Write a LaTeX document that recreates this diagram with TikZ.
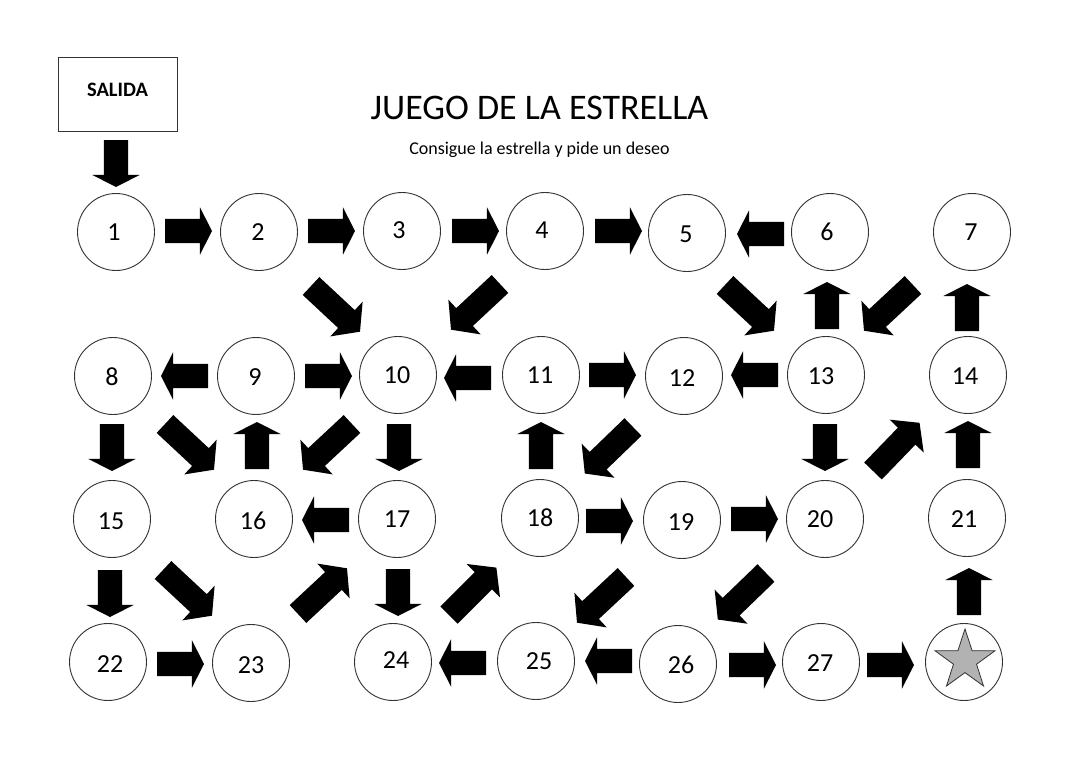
\documentclass[tikz,border=0pt]{standalone}
\usepackage{fontspec}
\setmainfont{Carlito}
\usetikzlibrary{shapes.geometric,shapes.arrows}
\tikzset{
  cell/.style={circle,draw=black!80,line width=0.9pt,minimum size=77pt,inner sep=0pt},
  cellnum/.style={inner sep=0pt,text depth=0pt,font=\fontsize{26}{26}\selectfont},
  straightarrow/.style={single arrow,fill=black,draw=none,inner xsep=0pt,inner ysep=12pt,outer sep=0pt,
    minimum width=47pt,minimum height=47pt,single arrow head extend=11.5pt,
    single arrow tip angle=126,anchor=tail},
  diagarrow/.style={single arrow,fill=black,draw=none,inner xsep=0pt,inner ysep=12pt,outer sep=0pt,
    minimum width=47pt,minimum height=67pt,single arrow head extend=11.5pt,
    single arrow tip angle=104,anchor=tail},
}
\begin{document}
\begin{tikzpicture}[x=1pt,y=-1pt]
\useasboundingbox (0,0) rectangle (1080,763);
\fill[white] (0,0) rectangle (1080,763);
\node[draw=black!80,line width=0.9pt,minimum width=119pt,minimum height=74pt,inner sep=0pt] (salida) at (118,94) {};
\node[font=\fontsize{20.5}{22}\selectfont\bfseries,inner sep=0pt] (salidatext) at (117.5,90) {SALIDA};
\node[font=\fontsize{36}{38}\selectfont,inner sep=0pt] (title) at (539.5,108) {JUEGO DE LA ESTRELLA};
\node[font=\fontsize{18}{20}\selectfont,inner sep=0pt] (subtitle) at (539.5,150) {Consigue la estrella y pide un deseo};
\foreach \n/\x/\y/\tx/\ty in {
  1/116/232/114/232,2/259/232/258/232,3/402/231/399/230,4/545/231/542/230,5/687/233/686/234,6/830/232/827/232,7/972/232/971/232,
  8/113/376/112/377,9/256/376/255/377,10/398/375/397/375,11/541/375/540/375,12/684/376/682/378,13/826/375/821/376,14/968/375/965/376,
  15/112/519/111/521,16/254/519/253/521,17/397/519/397/519,18/540/518/540/518,19/682/520/681/522,20/825/519/820/519,21/967/518/964/519,
  22/108/662/110/664,23/251/663/251/665,24/393/662/396/660,25/536/661/539/661,26/678/664/681/665,27/821/662/820/663}
  {\node[cell] (c\n) at (\x,\y) {};
   \node[cellnum] (n\n) at (\tx,\ty) {\n};}
\node[cell] (goal) at (964,662) {};
\node[star,star points=5,star point ratio=2.6,draw=black!80,line width=0.8pt,fill=black!30,
  minimum size=63pt,inner sep=0pt] (goalstar) at (965,660.5) {};
% horizontal and vertical arrows: name/tail x/tail y/angle
\foreach \n/\x/\y/\a in {
  sa/116/140/-90,
  r1/165/231/0,r2/308/231/0,r3/452/231/0,r4/595/231/0,l5/784/234/180,
  u6/827/329/90,u7/967/331/90,
  l8/208/376/180,r9/305/376/0,l10/491/378/180,r11/589/375/0,l12/778/375/180,
  d8/112/424/-90,u9/257/469/90,d10/399/424/-90,u11/541/469/90,d13/825/424/-90,u14/968/468/90,
  l16/349/520/180,r18/586/521/0,r19/731/519/0,
  d15/110/570/-90,d17/398/569/-90,u21/969/615/90,
  r22/157/664/0,l24/486/663/180,l25/632/661/180,r26/729/665/0,r27/867/665/0}
  \node[straightarrow,rotate=\a] (a\n) at (\x,\y) {};
% diagonal arrows
\foreach \n/\x/\y/\a in {
  a/311/286/-43,b/500/284/-137,c/725/285/-43,e/913/285/-137,
  f/165/424/-43,g/352/424/-137,h/633/427/-136,i/873/471/46,
  j/163/570/-43,k/298/614/43,m/449/615/45,n/626/577/-137,o/766/573/-136}
  \node[diagarrow,rotate=\a] (d\n) at (\x,\y) {};
\end{tikzpicture}
\end{document}
